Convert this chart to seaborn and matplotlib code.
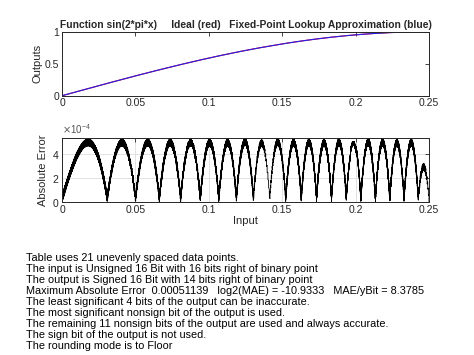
import numpy as np
import pandas as pd
import seaborn as sns
import matplotlib
matplotlib.use("Agg")
import matplotlib.pyplot as plt
from matplotlib.ticker import ScalarFormatter, FixedLocator

# ---- data ----
breakpoints = [0.0, 0.0308, 0.0501, 0.0663, 0.0808, 0.0942, 0.1068, 0.1188,
               0.1304, 0.1415, 0.1524, 0.1630, 0.1734, 0.1836, 0.1937, 0.2036,
               0.2135, 0.2233, 0.2330, 0.2427, 0.25]
input_frac_bits = 16
output_frac_bits = 14
x_range = [0.0, 0.25]
x_ticks = [0, 0.05, 0.1, 0.15, 0.2, 0.25]
x_tick_labels = ["0", "0.05", "0.1", "0.15", "0.2", "0.25"]
top_y_ticks = [0, 0.5, 1]
top_y_tick_labels = ["0", "0.5", "1"]
err_y_ticks = [0, 2e-4, 4e-4]
title_text = "Function sin(2*pi*x)     Ideal (red)   Fixed-Point Lookup Approximation (blue)"
info_lines = [
    "Table uses 21 unevenly spaced data points.",
    "The input is Unsigned 16 Bit with 16 bits right of binary point",
    "The output is Signed 16 Bit with 14 bits right of binary point",
    "Maximum Absolute Error  0.00051139   log2(MAE) = -10.9333   MAE/yBit = 8.3785",
    "The least significant 4 bits of the output can be inaccurate.",
    "The most significant nonsign bit of the output is used.",
    "The remaining 11 nonsign bits of the output are used and always accurate.",
    "The sign bit of the output is not used.",
    "The rounding mode is to Floor",
]

# ---- ideal function and fixed-point table lookup over all 16-bit inputs ----
x = np.arange(0, int(x_range[1] * 2**input_frac_bits) + 1) / 2**input_frac_bits
bp = np.array(breakpoints)
ideal = np.sin(2 * np.pi * x)
approx = np.floor(np.interp(x, bp, np.sin(2 * np.pi * bp)) * 2**output_frac_bits) / 2**output_frac_bits
err = np.abs(ideal - approx)
df = pd.DataFrame({"Input": x, "Ideal": ideal, "Approx": approx, "Error": err})

sns.set_style("white")
plt.rcParams["font.family"] = ["Liberation Sans", "DejaVu Sans"]

W, H = 474, 355
fig = plt.figure(figsize=(W / 100, H / 100), dpi=100)
fig.patch.set_facecolor("white")

def box(l, t, r, b):
    return [l / W, 1 - b / H, (r - l) / W, (b - t) / H]

ax1 = fig.add_axes(box(62, 31.7, 429, 95.7))
ax2 = fig.add_axes(box(62, 138.3, 429, 202.3))

sns.lineplot(data=df, x="Input", y="Ideal", ax=ax1, color="red", lw=0.8,
             estimator=None, sort=False)
sns.lineplot(data=df, x="Input", y="Approx", ax=ax1, color="#2020ee", lw=0.8,
             estimator=None, sort=False)
sns.lineplot(data=df, x="Input", y="Error", ax=ax2, color="black", lw=0.6,
             estimator=None, sort=False)

edge = "#262626"
for ax in (ax1, ax2):
    ax.set_xlim(*x_range)
    ax.xaxis.set_major_locator(FixedLocator(x_ticks))
    ax.set_xticklabels(x_tick_labels)
    ax.tick_params(direction="in", top=True, right=True, length=3, width=0.6,
                   labelsize=7.5, pad=2, colors=edge)
    for s in ax.spines.values():
        s.set_color(edge)
        s.set_linewidth(0.7)

ax1.set_ylim(0, 1)
ax1.set_yticks(top_y_ticks)
ax1.set_yticklabels(top_y_tick_labels)
ax1.set_xlabel("")
ax1.set_ylabel("Outputs", fontsize=8, labelpad=2, color=edge)
ax1.set_title(title_text, fontsize=7.4, fontweight="bold", pad=3)

ax2.set_ylim(0, err.max())
ax2.set_yticks(err_y_ticks)
fmt = ScalarFormatter(useMathText=True)
fmt.set_powerlimits((-3, 3))
ax2.yaxis.set_major_formatter(fmt)
ax2.yaxis.get_offset_text().set_fontsize(7)
ax2.yaxis.get_offset_text().set_color("#555555")
ax2.grid(True, color="#dddddd", lw=0.6)
ax2.set_axisbelow(True)
ax2.set_xlabel("Input", fontsize=8, labelpad=1, color=edge)
ax2.set_ylabel("Absolute Error", fontsize=8, labelpad=3, color=edge)

for i, line in enumerate(info_lines):
    fig.text(26 / W, 1 - (258.3 + 11.0 * i) / H, line, fontsize=7.8,
             va="center", ha="left", color="black")

fig.savefig("out.png", dpi=100, facecolor="white")
